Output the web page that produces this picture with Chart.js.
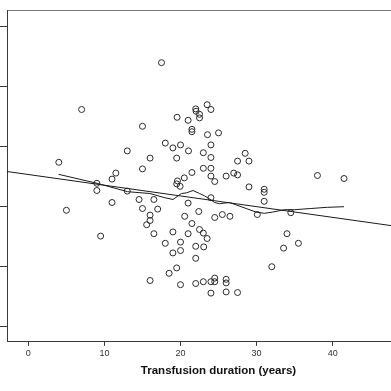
<!DOCTYPE html>
<html>
<head>
<meta charset="utf-8">
<script src="https://cdn.jsdelivr.net/npm/chart.js@4/dist/chart.umd.min.js"></script>
<style>
  html, body { margin: 0; padding: 0; background: #fff; overflow: hidden; }
  #wrap { width: 391px; height: 391px; overflow: hidden; }
</style>
</head>
<body>
<div id="wrap"><canvas id="c" width="435" height="391"></canvas></div>
<script>
/* Scatter: transfusion duration vs. (unlabelled) outcome, with linear fit and loess */

const xTicks = [0, 10, 20, 30, 40, 50];
const yTicks = [0, 1, 2, 3, 4, 5];

const durationYears = [
  17.5, 7.0, 15.0, 13.0, 4.0, 16.0, 15.0, 11.5, 11.0, 9.0,
  9.0, 13.0, 14.55, 16.5, 11.0, 5.0, 15.0, 17.0, 16.0, 16.0,
  15.55, 9.5, 16.5, 18.0, 19.0, 19.0, 19.5, 18.5, 16.0, 20.0,
  20.0, 20.0, 21.0, 22.0, 22.0, 22.0, 23.0, 24.0, 24.5, 24.5,
  26.0, 26.0, 24.0, 26.0, 27.5, 21.5, 20.55, 22.4, 21.0, 22.5,
  23.0, 23.5, 23.05, 24.0, 24.5, 25.5, 26.5, 30.1, 31.0, 31.0,
  31.0, 34.5, 34.0, 35.5, 33.55, 32.0, 38.0, 41.5, 29.0, 27.5,
  27.0, 26.0, 24.5, 24.0, 24.0, 23.0, 21.5, 19.6, 20.5, 19.95,
  19.5, 19.5, 24.0, 23.0, 21.05, 24.0, 20.0, 19.0, 18.0, 27.5,
  29.0, 28.5, 23.55, 25.0, 21.5, 21.5, 21.0, 19.55, 22.5, 22.5,
  22.0, 22.05, 24.0, 23.5
];

const outcome = [
  4.39, 3.61, 3.33, 2.92, 2.73, 2.80, 2.62, 2.55, 2.45, 2.38,
  2.26, 2.25, 2.11, 2.11, 2.06, 1.93, 1.96, 1.95, 1.85, 1.76,
  1.69, 1.50, 1.54, 1.38, 1.57, 1.22, 0.97, 0.88, 0.76, 0.69,
  1.40, 1.26, 1.54, 1.33, 1.13, 0.71, 0.74, 0.74, 0.80, 0.74,
  0.78, 0.72, 0.55, 0.57, 0.56, 1.71, 1.83, 1.91, 2.05, 1.61,
  1.55, 1.46, 1.32, 2.14, 1.81, 1.86, 1.83, 1.86, 2.08, 2.28,
  2.23, 1.89, 1.54, 1.38, 1.30, 0.99, 2.51, 2.46, 2.32, 2.52,
  2.55, 2.50, 2.41, 2.50, 2.63, 2.63, 2.56, 2.42, 2.47, 2.33,
  2.37, 2.80, 2.81, 2.89, 2.92, 3.02, 3.02, 2.97, 3.05, 2.75,
  2.75, 2.88, 3.19, 3.22, 3.28, 3.24, 3.43, 3.48, 3.47, 3.53,
  3.62, 3.58, 3.61, 3.69
];

// linear fit, read at both ends of the frame
const fitX = [-3, 53];
const fitY = [2.58, 1.58];

// loess smoother
const loessX = [3.97, 9.03, 13.05, 15.97, 17.93, 19.02, 19.67, 20.12, 20.77, 21.64,
  22.51, 23.17, 23.82, 24.48, 25.13, 26.44, 27.32, 28.63, 29.93, 31.02,
  32.11, 33.64, 34.95, 37.13, 39.31, 41.49];
const loessY = [2.53, 2.38, 2.24, 2.21, 2.14, 2.11, 2.17, 2.21, 2.22, 2.26,
  2.21, 2.17, 2.12, 2.06, 2.04, 2.06, 2.02, 1.96, 1.90, 1.88,
  1.90, 1.94, 1.94, 1.96, 1.98, 1.99];

const pts = (xs, ys) => xs.map((x, i) => ({ x: x, y: ys[i] }));

const axisColor = '#3a3a3a';

new Chart(document.getElementById('c'), {
    type: 'scatter',
    data: {
        datasets: [
            {
                label: 'fit',
                data: pts(fitX, fitY),
                showLine: true,
                borderColor: '#1a1a1a',
                borderWidth: 1,
                pointRadius: 0,
                order: 1
            },
            {
                label: 'loess',
                data: pts(loessX, loessY),
                showLine: true,
                borderColor: '#1a1a1a',
                borderWidth: 1,
                pointRadius: 0,
                tension: 0,
                order: 1
            },
            {
                label: 'cases',
                data: pts(durationYears, outcome),
                pointRadius: 3,
                pointBorderWidth: 1,
                pointBorderColor: '#2b2b2b',
                pointBackgroundColor: 'rgba(0,0,0,0)',
                order: 2
            }
        ]
    },
    options: {
        responsive: false,
        animation: false,
        layout: { padding: { top: 10, bottom: 13, left: 0, right: 0 } },
        plugins: { legend: { display: false }, tooltip: { enabled: false } },
        scales: {
            x: {
                type: 'linear',
                min: -2.81,
                max: 52.8,
                afterBuildTicks: s => { s.ticks = xTicks.map(v => ({ value: v })); },
                border: { color: axisColor, width: 1 },
                grid: { drawOnChartArea: false, drawTicks: true, tickLength: 4, color: axisColor },
                ticks: {
                    color: '#333',
                    padding: 2,
                    maxRotation: 0,
                    font: { family: 'Liberation Sans', size: 9 }
                },
                title: {
                    display: true,
                    text: 'Transfusion duration (years)',
                    color: '#111',
                    padding: { top: 3.5, bottom: 0 },
                    font: { family: 'Liberation Sans', size: 11.5, weight: 'bold' }
                }
            },
            x2: {
                type: 'linear',
                position: 'top',
                display: true,
                min: 0,
                max: 1,
                border: { color: '#7a7a7a', width: 1 },
                grid: { drawOnChartArea: false, drawTicks: false },
                ticks: { display: false }
            },
            y: {
                type: 'linear',
                min: -0.263,
                max: 5.268,
                afterBuildTicks: s => { s.ticks = yTicks.map(v => ({ value: v })); },
                border: { color: axisColor, width: 1 },
                grid: { drawOnChartArea: false, drawTicks: true, tickLength: 7, color: axisColor },
                ticks: { display: false }
            }
        }
    }
});
</script>
</body>
</html>
